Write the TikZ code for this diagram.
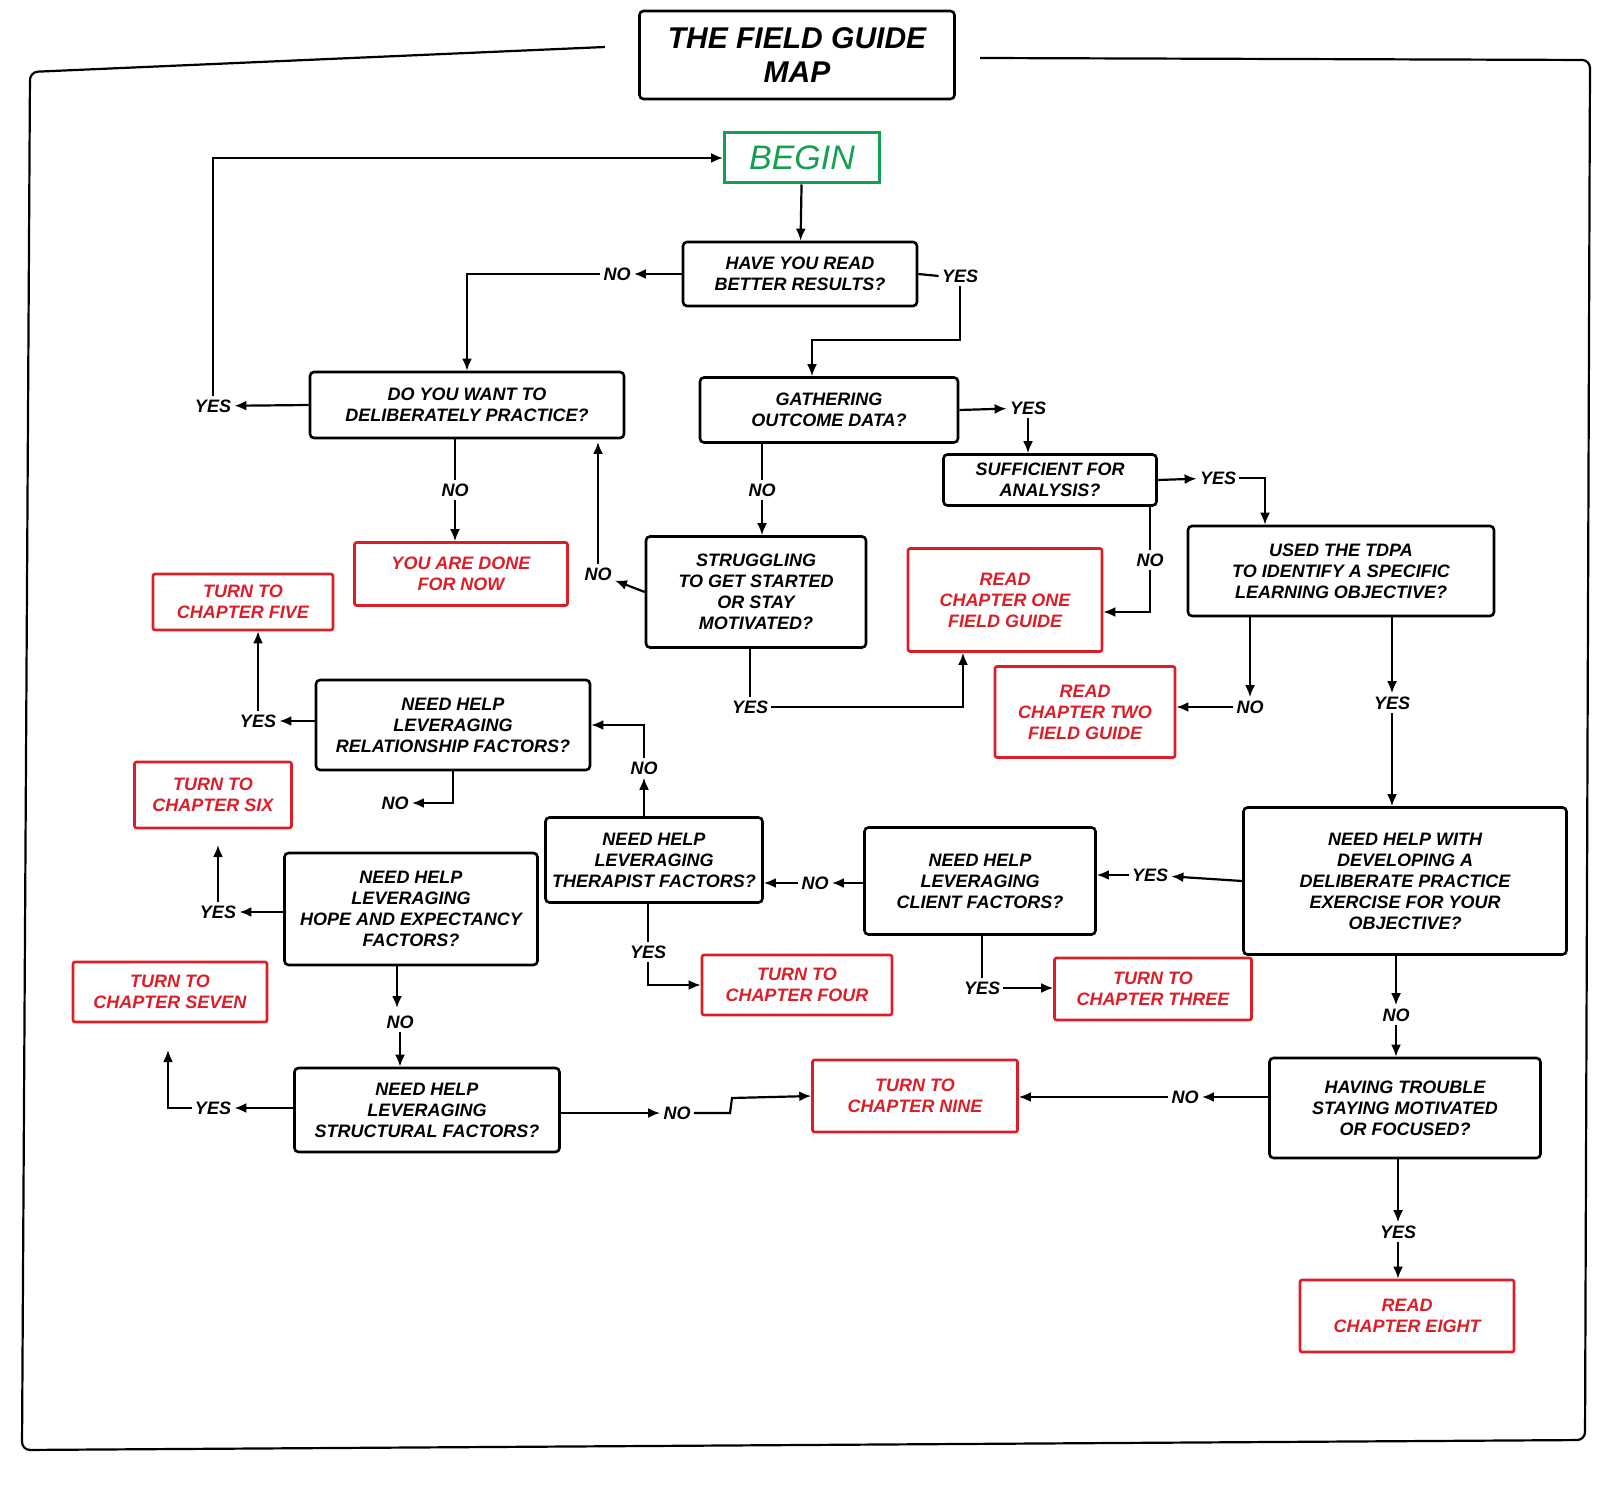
\documentclass[tikz,border=0pt]{standalone}
\usepackage{fontspec}
\setmainfont{Liberation Sans}
\usetikzlibrary{arrows.meta}
\definecolor{rd}{RGB}{220,30,40}
\definecolor{gr}{RGB}{20,160,80}
\begin{document}
\begin{tikzpicture}[x=0.5pt,y=-0.5pt,
  every node/.style={font=\fontsize{9}{10.5}\selectfont\bfseries\itshape, align=center},
  sz/.style 2 args={minimum width=#1*0.5pt, minimum height=#2*0.5pt, inner sep=1pt},
  q/.style={draw, line width=1.3pt, rounded corners=2pt},
  r/.style={draw=rd, text=rd, line width=1.3pt, rounded corners=1pt},
  lbl/.style={inner sep=1.5pt},
  a/.style={-{Latex[length=6pt,width=5pt]}, line width=1.1pt},
  l/.style={line width=1.1pt}]
\useasboundingbox (0,0) rectangle (1600,1491);
% frame
\draw[line width=1.1pt, rounded corners=4pt] (605,47) -- (30,72) -- (22,1450) -- (1585,1440) -- (1590,60) -- (980,58);
\node[q, sz={315}{88}, font=\fontsize{15}{17}\selectfont\bfseries\itshape] (T) at (797,55) {THE FIELD GUIDE\\MAP};
\node[draw=gr, text=gr, line width=1.5pt, sz={155}{50}, font=\fontsize{17}{19}\selectfont\itshape] (B) at (802,158) {BEGIN};
\node[q, sz={234}{64}] (Q1) at (800,274) {HAVE YOU READ\\BETTER RESULTS?};
\node[q, sz={314}{66}] (Q2) at (467,405) {DO YOU WANT TO\\DELIBERATELY PRACTICE?};
\node[q, sz={258}{65}] (Q3) at (829,410) {GATHERING\\OUTCOME DATA?};
\node[q, sz={213}{51}] (Q4) at (1050,480) {SUFFICIENT FOR\\ANALYSIS?};
\node[q, sz={306}{90}] (Q5) at (1341,571) {USED THE TDPA\\TO IDENTIFY A SPECIFIC\\LEARNING OBJECTIVE?};
\node[q, sz={220}{111}] (Q6) at (756,592) {STRUGGLING\\TO GET STARTED\\OR STAY\\MOTIVATED?};
\node[r, sz={213}{63}] (R0) at (461,574) {YOU ARE DONE\\FOR NOW};
\node[r, sz={194}{103}] (R1) at (1005,600) {READ\\CHAPTER ONE\\FIELD GUIDE};
\node[r, sz={180}{56}] (R5) at (243,602) {TURN TO\\CHAPTER FIVE};
\node[r, sz={180}{91}] (R2) at (1085,712) {READ\\CHAPTER TWO\\FIELD GUIDE};
\node[q, sz={274}{90}] (Q7) at (453,725) {NEED HELP\\LEVERAGING\\RELATIONSHIP FACTORS?};
\node[r, sz={157}{66}] (R6) at (213,795) {TURN TO\\CHAPTER SIX};
\node[q, sz={253}{112}] (Q8) at (411,909) {NEED HELP\\LEVERAGING\\HOPE AND EXPECTANCY\\FACTORS?};
\node[q, sz={217}{85}] (Q9) at (654,860) {NEED HELP\\LEVERAGING\\THERAPIST FACTORS?};
\node[q, sz={231}{107}] (Q10) at (980,881) {NEED HELP\\LEVERAGING\\CLIENT FACTORS?};
\node[q, sz={323}{147}] (Q11) at (1405,881) {NEED HELP WITH\\DEVELOPING A\\DELIBERATE PRACTICE\\EXERCISE FOR YOUR\\OBJECTIVE?};
\node[r, sz={194}{60}] (R7) at (170,992) {TURN TO\\CHAPTER SEVEN};
\node[r, sz={190}{60}] (R4) at (797,985) {TURN TO\\CHAPTER FOUR};
\node[r, sz={197}{62}] (R3) at (1153,989) {TURN TO\\CHAPTER THREE};
\node[q, sz={265}{84}] (Q12) at (427,1110) {NEED HELP\\LEVERAGING\\STRUCTURAL FACTORS?};
\node[r, sz={205}{72}] (R9) at (915,1096) {TURN TO\\CHAPTER NINE};
\node[q, sz={271}{100}] (Q13) at (1405,1108) {HAVING TROUBLE\\STAYING MOTIVATED\\OR FOCUSED?};
\node[r, sz={214}{72}] (R8) at (1407,1316) {READ\\CHAPTER EIGHT};
% labels
\node[lbl] (n1) at (617,274) {NO};
\node[lbl] (y1) at (960,276) {YES};
\node[lbl] (y2) at (213,406) {YES};
\node[lbl] (n2) at (455,490) {NO};
\node[lbl] (n6) at (598,574) {NO};
\node[lbl] (n3) at (762,490) {NO};
\node[lbl] (y3) at (1028,408) {YES};
\node[lbl] (y4) at (1218,478) {YES};
\node[lbl] (n4) at (1150,560) {NO};
\node[lbl] (y6) at (750,707) {YES};
\node[lbl] (n5) at (1250,707) {NO};
\node[lbl] (y5) at (1392,703) {YES};
\node[lbl] (y11) at (1150,875) {YES};
\node[lbl] (n10) at (815,883) {NO};
\node[lbl] (y10) at (982,988) {YES};
\node[lbl] (n9) at (644,768) {NO};
\node[lbl] (y9) at (648,952) {YES};
\node[lbl] (y7) at (258,721) {YES};
\node[lbl] (n7) at (395,803) {NO};
\node[lbl] (y8) at (218,912) {YES};
\node[lbl] (n8) at (400,1022) {NO};
\node[lbl] (y12) at (213,1108) {YES};
\node[lbl] (n12) at (677,1113) {NO};
\node[lbl] (n13) at (1185,1097) {NO};
\node[lbl] (y13) at (1398,1232) {YES};
\node[lbl] (n11) at (1396,1015) {NO};
% connectors
\draw[a] (B) -- (Q1);
\draw[a] (Q1.west) -- (n1);
\draw[a] (n1.west) -| (Q2.north);
\draw[l] (Q1.east) -- (y1.west);
\draw[a] (y1.south) |- (880,340) -| (Q3.north -| 812,0);
\draw[a] (Q2.west) -- (y2);
\draw[a] (y2.north) |- (B.west);
\draw[l] (Q2.south -| n2) -- (n2);
\draw[a] (n2) -- (R0.north -| n2);
\draw[a] (Q6.west) -- (n6);
\coordinate (c6) at (598,442);
\draw[a] (n6.north) -- (c6);
\draw[l] (Q3.south -| n3) -- (n3);
\draw[a] (n3) -- (Q6.north -| n3);
\draw[a] (Q3.east) -- (y3);
\draw[a] (y3) -- (Q4.north -| y3);
\draw[a] (Q4.east) -- (y4);
\draw[a] (y4.east) -- (1265,478) -- (Q5.north -| 1265,0);
\draw[l] (Q4.south -| n4) -- (n4);
\draw[a] (n4) |- (R1.east |- 0,612);
\draw[l] (Q6.south -| y6) -- (y6);
\draw[a] (y6.east) -- (963,707) -- (R1.south -| 963,0);
\draw[a] (Q5.south -| n5) -- (n5);
\draw[a] (n5) -- (R2.east |- n5);
\draw[a] (Q5.south -| y5) -- (y5);
\draw[a] (y5) -- (Q11.north -| y5);
\draw[a] (Q11.west) -- (y11);
\draw[a] (y11) -- (Q10.east |- y11);
\draw[a] (Q10.west |- n10) -- (n10);
\draw[a] (n10) -- (Q9.east |- n10);
\draw[l] (Q10.south -| y10) -- (y10);
\draw[a] (y10) -- (R3.west |- y10);
\draw[a] (Q9.north -| n9) -- (n9);
\draw[a] (n9.north) |- (Q7.east |- 0,725);
\draw[l] (Q9.south -| y9) -- (y9);
\draw[a] (y9.south) |- (R4.west);
\draw[a] (Q7.west |- y7) -- (y7);
\draw[a] (y7.north) -- (R5.south -| y7);
\draw[a] (Q7.south) |- (n7.east);
\draw[a] (Q8.west |- y8) -- (y8);
\coordinate (c8) at (218,845);
\draw[a] (y8.north) -- (c8);
\draw[a] (Q8.south -| 397,0) -- (397,1008);
\draw[a] (n8) -- (Q12.north -| n8);
\draw[a] (Q12.west |- y12) -- (y12);
\coordinate (c12) at (168,1050);
\draw[a] (y12.west) -- (168,1108) -- (c12);
\draw[a] (Q12.east |- n12) -- (n12);
\draw[a] (n12.east) -- (730,1113) -- (732,1098) -- (R9.west);
\draw[a] (Q13.west |- n13) -- (n13);
\draw[a] (n13) -- (R9.east |- n13);
\draw[a] (Q11.south -| n11) -- (n11);
\draw[a] (n11) -- (Q13.north -| n11);
\draw[a] (Q13.south -| y13) -- (y13);
\draw[a] (y13) -- (R8.north -| y13);
\end{tikzpicture}
\end{document}
